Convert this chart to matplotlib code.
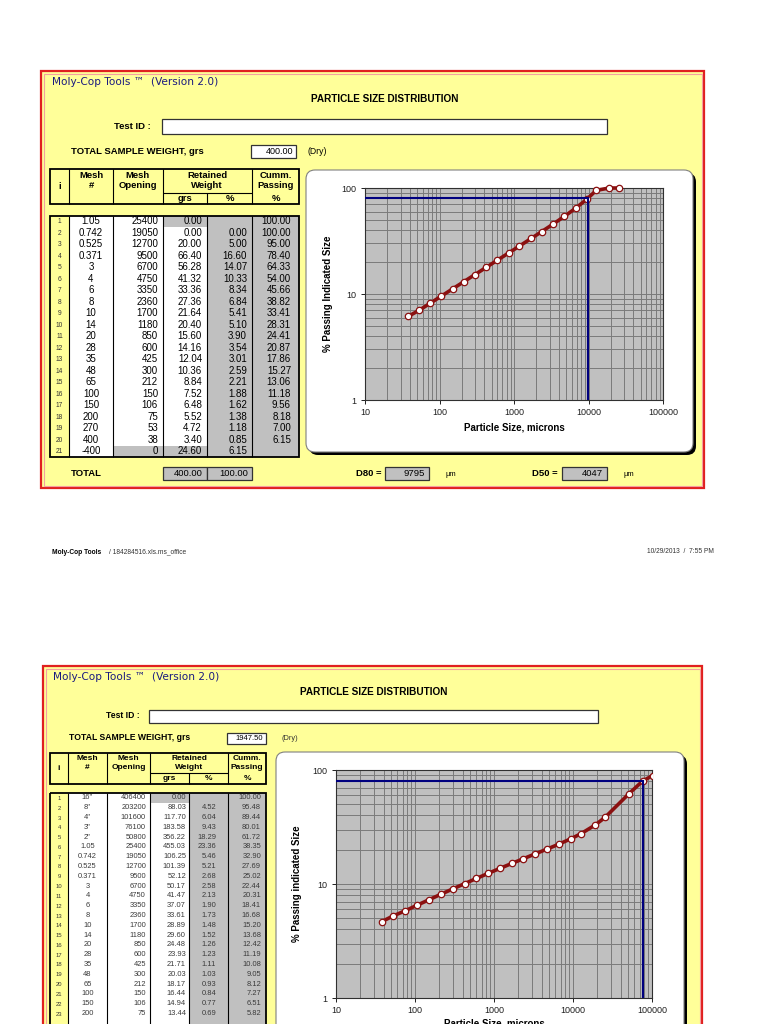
import matplotlib
matplotlib.use("Agg")
import matplotlib.pyplot as plt
from matplotlib.patches import Rectangle, FancyBboxPatch
from matplotlib.ticker import FixedLocator, FixedFormatter, LogLocator, NullFormatter

plt.rcParams['font.family'] = ['Liberation Sans', 'DejaVu Sans']

# ---------------- data: panel 1 ----------------
p1_weight = 400.00
p1_mesh = ["1.05", "0.742", "0.525", "0.371", "3", "4", "6", "8", "10", "14", "20",
           "28", "35", "48", "65", "100", "150", "200", "270", "400", "-400"]
p1_opening = [25400, 19050, 12700, 9500, 6700, 4750, 3350, 2360, 1700, 1180, 850,
              600, 425, 300, 212, 150, 106, 75, 53, 38, 0]
p1_grs = [0.00, 0.00, 20.00, 66.40, 56.28, 41.32, 33.36, 27.36, 21.64, 20.40, 15.60,
          14.16, 12.04, 10.36, 8.84, 7.52, 6.48, 5.52, 4.72, 3.40, 24.60]
p1_pct = [None, 0.00, 5.00, 16.60, 14.07, 10.33, 8.34, 6.84, 5.41, 5.10, 3.90,
          3.54, 3.01, 2.59, 2.21, 1.88, 1.62, 1.38, 1.18, 0.85, 6.15]
p1_cumm = [100.00, 100.00, 95.00, 78.40, 64.33, 54.00, 45.66, 38.82, 33.41, 28.31, 24.41,
           20.87, 17.86, 15.27, 13.06, 11.18, 9.56, 8.18, 7.00, 6.15, None]
p1_total = [400.00, 100.00]
p1_d80 = 9795
p1_d50 = 4047

# ---------------- data: panel 2 ----------------
p2_weight = 1947.50
p2_mesh = ['16"', '8"', '4"', '3"', '2"', "1.05", "0.742", "0.525", "0.371", "3", "4", "6",
           "8", "10", "14", "20", "28", "35", "48", "65", "100", "150", "200", "270", "400"]
p2_opening = [406400, 203200, 101600, 76100, 50800, 25400, 19050, 12700, 9500, 6700, 4750,
              3350, 2360, 1700, 1180, 850, 600, 425, 300, 212, 150, 106, 75, 53, 38]
p2_grs = [0.00, 88.03, 117.70, 183.58, 356.22, 455.03, 106.25, 101.39, 52.12, 50.17, 41.47,
          37.07, 33.61, 28.89, 29.60, 24.48, 23.93, 21.71, 20.03, 18.17, 16.44, 14.94, 13.44]
p2_pct = [None, 4.52, 6.04, 9.43, 18.29, 23.36, 5.46, 5.21, 2.68, 2.58, 2.13,
          1.90, 1.73, 1.48, 1.52, 1.26, 1.23, 1.11, 1.03, 0.93, 0.84, 0.77, 0.69]
p2_cumm = [100.00, 95.48, 89.44, 80.01, 61.72, 38.35, 32.90, 27.69, 25.02, 22.44, 20.31,
           18.41, 16.68, 15.20, 13.68, 12.42, 11.19, 10.08, 9.05, 8.12, 7.27, 6.51, 5.82,
           5.25, 4.68]
p2_d80 = 76000

x_ticks = [10, 100, 1000, 10000, 100000]
x_tick_labels = ["10", "100", "1000", "10000", "100000"]
y_ticks = [1, 10, 100]
y_tick_labels = ["1", "10", "100"]

# ---------------- figure ----------------
W, H = 768, 1024
fig = plt.figure(figsize=(7.68, 10.24), dpi=100)
fig.patch.set_facecolor("white")
ov = fig.add_axes([0, 0, 1, 1], zorder=0)
ov.set_xlim(0, W)
ov.set_ylim(H, 0)
ov.axis("off")

YEL = "#FFFF99"
GRAY = "#C0C0C0"
RED = "#E02020"


def rect(x0, y0, x1, y1, fc="none", ec="none", lw=0.0, z=1):
    ov.add_patch(Rectangle((x0, y0), x1 - x0, y1 - y0, facecolor=fc,
                           edgecolor=ec, lw=lw, zorder=z))


def txt(x, y, s, size, ha="left", weight="normal", color="black", z=5, **kw):
    ov.text(x, y, s, fontsize=size, ha=ha, va="center", fontweight=weight,
            color=color, zorder=z, **kw)


def hline(x0, x1, y, lw=1.0, color="black", z=4):
    ov.plot([x0, x1], [y, y], color=color, lw=lw, zorder=z, solid_capstyle="butt")


def vline(x, y0, y1, lw=1.0, color="black", z=4):
    ov.plot([x, x], [y0, y1], color=color, lw=lw, zorder=z, solid_capstyle="butt")


def fmt(v):
    return "" if v is None else f"{v:.2f}"


def panel_frame(x0, y0, x1, y1):
    rect(x0, y0, x1, y1, fc=YEL, ec=RED, lw=1.6, z=0.5)
    rect(x0 + 2.5, y0 + 2.5, x1 - 2.5, y1 - 2.5, fc="none", ec="#F4A0A0", lw=0.8, z=0.6)


def chart_box(x0, y0, x1, y1):
    sh = FancyBboxPatch((x0 + 3, y0 + 3), x1 - x0, y1 - y0,
                        boxstyle="round,pad=0,rounding_size=9",
                        facecolor="black", edgecolor="none", zorder=1)
    ov.add_patch(sh)
    bx = FancyBboxPatch((x0, y0), x1 - x0, y1 - y0,
                        boxstyle="round,pad=0,rounding_size=9",
                        facecolor="white", edgecolor="#808080", lw=0.8, zorder=1.1)
    ov.add_patch(bx)


def draw_table(cols, hy, top, rh, mesh, opening, grs, pct, cumm, fs, fsi, tcolor,
               rx, hfs, htexts):
    # header
    rect(cols[0], hy[0], cols[-1], hy[2], fc=YEL, ec="black", lw=1.3, z=3)
    for c in cols[1:-1]:
        if c == cols[4]:
            vline(c, hy[1], hy[2], lw=0.8)
        else:
            vline(c, hy[0], hy[2], lw=0.8)
    hline(cols[3], cols[5], hy[1], lw=0.8)
    for (x, y, s) in htexts:
        txt(x, y, s, hfs, ha="center", weight="bold")
    # body
    n = len(mesh)
    bottom = top + n * rh
    for i in range(n):
        y0 = top + i * rh
        y1 = y0 + rh
        fills = [YEL, "white", "white", "white", GRAY, GRAY]
        if opening[i] == 0:
            fills[2] = GRAY
            fills[3] = GRAY
        if i == 0:
            fills[3] = GRAY
        for k in range(6):
            rect(cols[k], y0, cols[k + 1], y1, fc=fills[k], z=2)
        if y1 > H + 2:
            continue
        yc = y0 + rh / 2
        txt((cols[0] + cols[1]) / 2, yc + 0.5, str(i + 1), fsi, ha="center", color="#333333")
        txt((cols[1] + cols[2]) / 2, yc, mesh[i], fs, ha="center", color=tcolor)
        txt(rx[0], yc, str(opening[i]), fs, ha="right", color=tcolor)
        if i < len(grs):
            txt(rx[1], yc, fmt(grs[i]), fs, ha="right", color=tcolor)
            txt(rx[2], yc, fmt(pct[i]), fs, ha="right", color=tcolor)
        txt(rx[3], yc, fmt(cumm[i]), fs, ha="right", color=tcolor)
    for c in cols[1:-1]:
        vline(c, top, bottom, lw=0.8)
    rect(cols[0], top, cols[-1], bottom, fc="none", ec="black", lw=1.3, z=4)


def draw_chart(px_box, xs, ys, d80, ylabel, ylab_x, xlab_y, clip):
    x0, y0, x1, y1 = px_box
    ax = fig.add_axes([x0 / W, 1 - y1 / H, (x1 - x0) / W, (y1 - y0) / H], zorder=2)
    ax.set_xscale("log")
    ax.set_yscale("log")
    ax.set_facecolor(GRAY)
    pts = [(a, b) for a, b in zip(xs, ys) if b is not None and a > 0]
    px_ = [p[0] for p in pts]
    py_ = [p[1] for p in pts]
    ax.plot(px_, py_, color="#8B1010", lw=2.6, marker="o", ms=4.6, mfc="white",
            mec="#8B1010", mew=0.9, zorder=3, clip_on=clip)
    ax.plot([10, d80], [80, 80], color="#00007F", lw=1.5, zorder=4)
    ax.plot([d80, d80], [1, 80], color="#00007F", lw=1.5, zorder=4)
    ax.set_xlim(10, 100000)
    ax.set_ylim(1, 100)
    ax.xaxis.set_major_locator(FixedLocator(x_ticks))
    ax.xaxis.set_major_formatter(FixedFormatter(x_tick_labels))
    ax.yaxis.set_major_locator(FixedLocator(y_ticks))
    ax.yaxis.set_major_formatter(FixedFormatter(y_tick_labels))
    ax.xaxis.set_minor_locator(LogLocator(base=10, subs=range(2, 10)))
    ax.yaxis.set_minor_locator(LogLocator(base=10, subs=range(2, 10)))
    ax.xaxis.set_minor_formatter(NullFormatter())
    ax.yaxis.set_minor_formatter(NullFormatter())
    ax.grid(which="both", color="#7a7a7a", lw=0.7)
    ax.set_axisbelow(True)
    ax.tick_params(which="major", length=3, width=0.7, labelsize=6.5, pad=3,
                   colors="#202020")
    ax.tick_params(which="minor", length=0)
    for s in ax.spines.values():
        s.set_color("#303030")
        s.set_linewidth(0.8)
    txt(ylab_x, (y0 + y1) / 2, ylabel, 7, ha="center", weight="bold", rotation=90)
    txt((x0 + x1) / 2, xlab_y, "Particle Size, microns", 7, ha="center", weight="bold")
    return ax


# ================= panel 1 =================
panel_frame(41, 71, 704, 488)
txt(52, 82, "Moly-Cop Tools \u2122  (Version 2.0)", 7.6, color="#1A1A80",
    family=["DejaVu Sans"])
txt(385, 99, "PARTICLE SIZE DISTRIBUTION", 7.2, ha="center", weight="bold")
txt(151, 126.5, "Test ID :", 6.8, ha="right", weight="bold")
rect(162, 119, 607, 134, fc="white", ec="#333333", lw=0.9, z=3)
txt(71, 151, "TOTAL SAMPLE WEIGHT, grs", 6.8, weight="bold")
rect(251, 145, 296, 158, fc="white", ec="#333333", lw=0.9, z=3)
txt(293, 151.5, fmt(p1_weight), 6.5, ha="right")
txt(307, 151.5, "(Dry)", 6.2)

c1 = [50, 69, 113, 163, 207, 252, 299]
h1 = [169, 192.5, 204]
hdr1 = [(59.5, 186.5, "i"), (91, 175, "Mesh"), (91, 186, "#"),
        (138, 175, "Mesh"), (138, 186, "Opening"),
        (207, 175, "Retained"), (207, 186, "Weight"), (185, 198.5, "grs"), (229.5, 198.5, "%"),
        (275.5, 175, "Cumm."), (275.5, 186, "Passing"), (275.5, 198.5, "%")]
draw_table(c1, h1, 215.5, 11.5, p1_mesh, p1_opening, p1_grs, p1_pct, p1_cumm,
           7, 4.8, "black", [158, 202, 247, 291], 6.8, hdr1)

txt(71, 473, "TOTAL", 6.8, weight="bold")
rect(163, 467, 207, 480, fc=GRAY, ec="#333333", lw=0.9, z=3)
rect(207, 467, 252, 480, fc=GRAY, ec="#333333", lw=0.9, z=3)
txt(203, 473.5, fmt(p1_total[0]), 6.8, ha="right")
txt(248, 473.5, fmt(p1_total[1]), 6.8, ha="right")

chart_box(306, 170, 693, 452)
draw_chart((365, 188, 663, 400), p1_opening, p1_cumm, p1_d80,
           "% Passing Indicated Size", 328, 428, False)

txt(381, 473.5, "D80 =", 6.8, ha="right", weight="bold")
rect(385, 467, 429, 480, fc=GRAY, ec="#333333", lw=0.9, z=3)
txt(425, 473.5, str(p1_d80), 6.8, ha="right")
txt(446, 474, "\u00b5m", 5.5)
txt(558, 473.5, "D50 =", 6.8, ha="right", weight="bold")
rect(562, 467, 607, 480, fc=GRAY, ec="#333333", lw=0.9, z=3)
txt(603, 473.5, str(p1_d50), 6.8, ha="right")
txt(623, 474, "\u00b5m", 5.5)

# ================= footer =================
txt(52, 552, "Moly-Cop Tools", 4.8, weight="bold")
txt(109, 552, "/ 184284516.xls.ms_office", 4.8, color="#333333")
txt(714, 551.5, "10/29/2013  /  7:55 PM", 4.8, ha="right", color="#333333")

# ================= panel 2 =================
panel_frame(43, 666, 702, 1045)
txt(53, 677, "Moly-Cop Tools \u2122  (Version 2.0)", 7.6, color="#1A1A80",
    family=["DejaVu Sans"])
txt(374, 692, "PARTICLE SIZE DISTRIBUTION", 7.2, ha="center", weight="bold")
txt(140, 715, "Test ID :", 6.2, ha="right", weight="bold")
rect(149, 709.5, 598, 722.5, fc="white", ec="#333333", lw=0.9, z=3)
txt(69, 737.5, "TOTAL SAMPLE WEIGHT, grs", 6.2, weight="bold")
rect(227, 732.5, 266, 743.5, fc="white", ec="#333333", lw=0.9, z=3)
txt(263, 738, fmt(p2_weight), 5.5, ha="right")
txt(281, 738.5, "(Dry)", 5.3, color="#333333")

c2 = [50, 68, 107, 150, 189, 228, 266]
h2 = [753, 773, 784]
hdr2 = [(59, 768, "i"), (87.5, 758, "Mesh"), (87.5, 767.5, "#"),
        (128.5, 758, "Mesh"), (128.5, 767.5, "Opening"),
        (189, 758, "Retained"), (189, 767.5, "Weight"), (169.5, 778.5, "grs"), (208.5, 778.5, "%"),
        (247, 758, "Cumm."), (247, 767.5, "Passing"), (247, 778.5, "%")]
draw_table(c2, h2, 793, 9.8, p2_mesh, p2_opening, p2_grs, p2_pct, p2_cumm,
           5.4, 4.2, "#3a3a3a", [146, 186, 216, 261], 6.0, hdr2)

chart_box(276, 752, 684, 1045)
draw_chart((336, 770, 652, 998), p2_opening, p2_cumm, p2_d80,
           "% Passing indicated Size", 297, 1024, True)

fig.savefig("out.png", dpi=100, facecolor="white")
